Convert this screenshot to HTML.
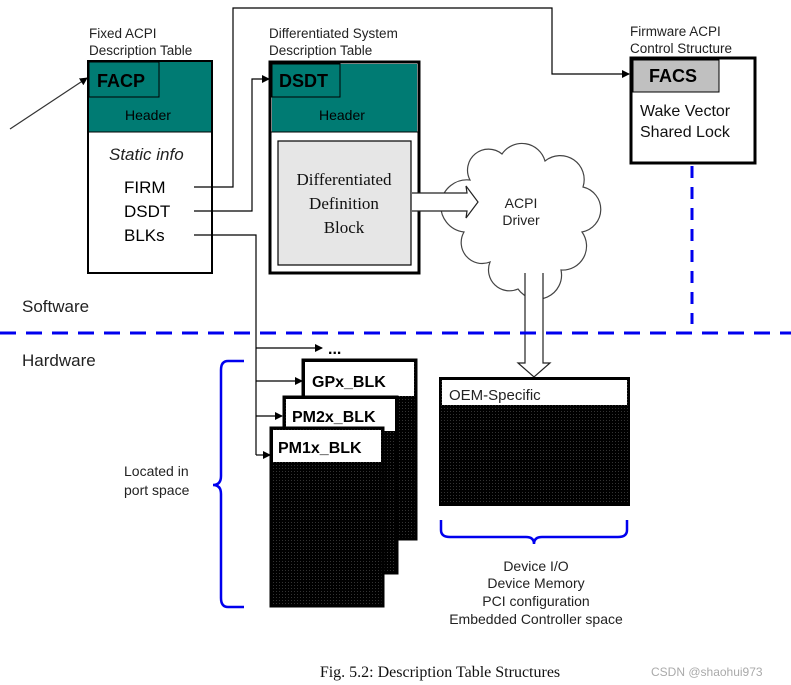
<!DOCTYPE html>
<html><head><meta charset="utf-8"><style>
html,body{margin:0;padding:0;background:#fff}
svg{display:block}
text{font-family:"Liberation Sans",Arial,sans-serif}
text.serif{font-family:"Liberation Serif","Times New Roman",serif}
</style></head><body>
<svg width="791" height="685" viewBox="0 0 791 685" xmlns="http://www.w3.org/2000/svg">
<defs>
<pattern id="grid" width="3" height="3" patternUnits="userSpaceOnUse">
<rect width="3" height="3" fill="#000"/><rect width="1" height="1" fill="#333"/>
</pattern>
<marker id="ah" markerWidth="8" markerHeight="8" refX="7" refY="4" orient="auto" markerUnits="userSpaceOnUse">
<path d="M0,0 L8,4 L0,8 Z" fill="#000"/>
</marker>
</defs>

<!-- FACP -->
<text x="89" y="38" font-size="13.5" fill="#222">Fixed ACPI</text>
<text x="89" y="55" font-size="13.5" fill="#222">Description Table</text>
<rect x="88" y="61" width="124" height="212" fill="#fff" stroke="#000" stroke-width="2"/>
<rect x="89" y="62" width="122" height="70" fill="#007b73"/>
<rect x="89" y="62" width="70" height="35" fill="none" stroke="#000" stroke-width="1"/>
<line x1="88" y1="132" x2="212" y2="132" stroke="#000"/>
<text x="97" y="87" font-size="18" font-weight="bold" fill="#000">FACP</text>
<text x="125" y="120" font-size="14" fill="#000">Header</text>
<text x="109" y="160" font-size="17" font-style="italic" fill="#222">Static info</text>
<text x="124" y="193" font-size="17" fill="#000">FIRM</text>
<text x="124" y="217" font-size="17" fill="#000">DSDT</text>
<text x="124" y="241" font-size="17" fill="#000">BLKs</text>
<line x1="10" y1="129" x2="87" y2="78" stroke="#333" stroke-width="1.2" marker-end="url(#ah)"/>

<!-- DSDT -->
<text x="269" y="38" font-size="13.5" fill="#222">Differentiated System</text>
<text x="269" y="55" font-size="13.5" fill="#222">Description Table</text>
<rect x="270" y="62" width="149" height="211" fill="#fff" stroke="#000" stroke-width="3"/>
<rect x="272" y="64" width="145" height="68" fill="#007b73"/>
<rect x="272" y="64" width="68" height="33" fill="none" stroke="#000" stroke-width="1"/>
<line x1="270" y1="132" x2="419" y2="132" stroke="#000"/>
<text x="279" y="87" font-size="18" font-weight="bold" fill="#000">DSDT</text>
<text x="319" y="120" font-size="14" fill="#000">Header</text>
<rect x="278" y="141" width="133" height="124" fill="#e6e6e6" stroke="#000" stroke-width="1.2"/>
<text class="serif" x="344" y="185" font-size="17" text-anchor="middle" fill="#111">Differentiated</text>
<text class="serif" x="344" y="209" font-size="17" text-anchor="middle" fill="#111">Definition</text>
<text class="serif" x="344" y="233" font-size="17" text-anchor="middle" fill="#111">Block</text>

<!-- connectors -->
<polyline points="194,187 233,187 233,8 552,8 552,74 629,74" fill="none" stroke="#000" stroke-width="1.2" marker-end="url(#ah)"/>
<polyline points="194,211 252,211 252,79 269,79" fill="none" stroke="#000" stroke-width="1.2" marker-end="url(#ah)"/>
<polyline points="194,235 256,235 256,455" fill="none" stroke="#000" stroke-width="1.2"/>
<line x1="256" y1="348" x2="322" y2="348" stroke="#000" stroke-width="1.2" marker-end="url(#ah)"/>
<text x="328" y="354" font-size="16" font-weight="bold">...</text>
<line x1="256" y1="381" x2="302" y2="381" stroke="#000" stroke-width="1.2" marker-end="url(#ah)"/>
<line x1="256" y1="416" x2="282" y2="416" stroke="#000" stroke-width="1.2" marker-end="url(#ah)"/>
<line x1="256" y1="455" x2="270" y2="455" stroke="#000" stroke-width="1.2" marker-end="url(#ah)"/>

<!-- cloud -->
<path d="M470,180 A21,21 0 0 1 502,154 A24,24 0 0 1 545,161 A24,24 0 0 1 583,187 A23,23 0 0 1 582,232 A24,24 0 0 1 561,270 A24,24 0 0 1 518,289 A21,21 0 0 1 490,262 A21,21 0 0 1 464,232 A23,23 0 0 1 470,180 Z" fill="#fff" stroke="#444" stroke-width="1.2"/>
<text x="521" y="208" font-size="14" text-anchor="middle" fill="#222">ACPI</text>
<text x="521" y="225" font-size="14" text-anchor="middle" fill="#222">Driver</text>
<path d="M412,193 L467,193 L466,186 L478,202 L466,218 L467,211 L412,211" fill="#fff" stroke="#222" stroke-width="1.2"/>
<path d="M525,273 L525,363 L518,363 L534,377 L550,363 L543,363 L543,273" fill="#fff" stroke="#222" stroke-width="1.2"/>

<!-- FACS -->
<text x="630" y="36" font-size="13.5" fill="#222">Firmware ACPI</text>
<text x="630" y="53" font-size="13.5" fill="#222">Control Structure</text>
<rect x="631" y="58" width="124" height="105" fill="#fff" stroke="#000" stroke-width="3"/>
<rect x="633" y="60" width="86" height="32" fill="#c0c0c0" stroke="#000" stroke-width="1"/>
<text x="649" y="82" font-size="18" font-weight="bold">FACS</text>
<text x="640" y="116" font-size="16" fill="#111">Wake Vector</text>
<text x="640" y="137" font-size="16" fill="#111">Shared Lock</text>

<line x1="692" y1="166" x2="692" y2="324" stroke="#0000ee" stroke-width="3" stroke-dasharray="12,9"/>
<line x1="0" y1="333" x2="791" y2="333" stroke="#0000ee" stroke-width="3" stroke-dasharray="16,10"/>
<text x="22" y="312" font-size="17" fill="#222">Software</text>
<text x="22" y="366" font-size="17" fill="#222">Hardware</text>

<rect x="303" y="360" width="113" height="179" fill="url(#grid)" stroke="#000" stroke-width="3"/>
<rect x="305" y="362" width="109" height="34" fill="#fff"/>
<text x="312" y="387" font-size="16" font-weight="bold">GPx_BLK</text>
<rect x="284" y="397" width="113" height="176" fill="url(#grid)" stroke="#000" stroke-width="3"/>
<rect x="286" y="399" width="109" height="32" fill="#fff"/>
<text x="292" y="422" font-size="16" font-weight="bold">PM2x_BLK</text>
<rect x="271" y="428" width="112" height="178" fill="url(#grid)" stroke="#000" stroke-width="3"/>
<rect x="273" y="430" width="108" height="32" fill="#fff"/>
<text x="278" y="453" font-size="16" font-weight="bold">PM1x_BLK</text>

<rect x="440" y="378" width="189" height="127" fill="url(#grid)" stroke="#000" stroke-width="2"/>
<rect x="442" y="380" width="185" height="25" fill="#fff"/>
<text x="449" y="400" font-size="15" fill="#222">OEM-Specific</text>

<path d="M244,361 L228,361 Q221,361 221,370 L221,476 Q221,485 213,485 Q221,485 221,494 L221,598 Q221,607 228,607 L244,607" fill="none" stroke="#0000ee" stroke-width="2.5"/>
<text x="124" y="476" font-size="14" fill="#222">Located in</text>
<text x="124" y="495" font-size="14" fill="#222">port space</text>
<path d="M441,520 L441,530 Q441,537 450,537 L526,537 Q534,537 534,544 Q534,537 542,537 L618,537 Q627,537 627,530 L627,520" fill="none" stroke="#0000ee" stroke-width="2.5"/>
<text x="536" y="571" font-size="14" text-anchor="middle" fill="#222">Device I/O</text>
<text x="536" y="588" font-size="14" text-anchor="middle" fill="#222">Device Memory</text>
<text x="536" y="606" font-size="14" text-anchor="middle" fill="#222">PCI configuration</text>
<text x="536" y="624" font-size="14" text-anchor="middle" fill="#222">Embedded Controller space</text>

<text class="serif" x="440" y="677" font-size="16" text-anchor="middle" fill="#111">Fig. 5.2: Description Table Structures</text>
<text x="651" y="676" font-size="12" fill="#aaa">CSDN @shaohui973</text>
</svg>
</body></html>
